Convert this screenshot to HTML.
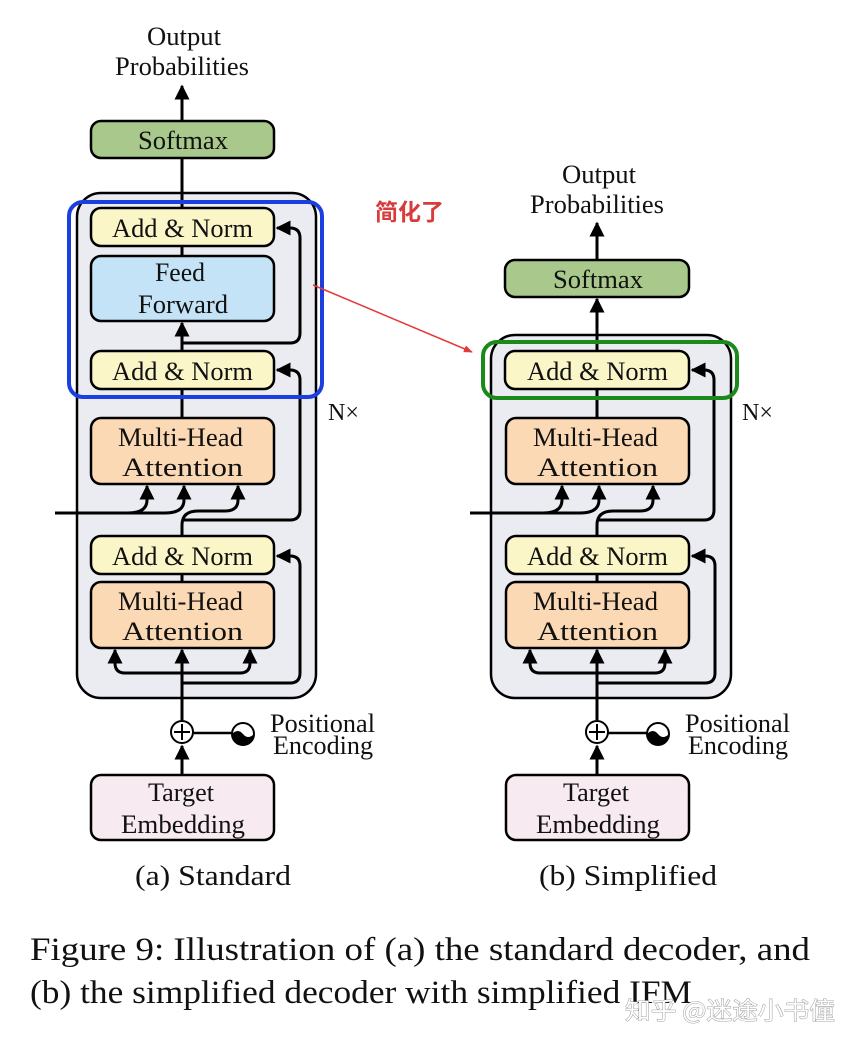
<!DOCTYPE html>
<html><head><meta charset="utf-8"><style>
body{margin:0;background:#fff;}
svg{display:block;}
text{font-family:"Liberation Serif",serif;fill:#111;}
</style></head><body>
<svg width="858" height="1044" viewBox="0 0 858 1044" xmlns="http://www.w3.org/2000/svg">
<defs>
<marker id="ah" viewBox="0 0 10 10" refX="9" refY="5" markerWidth="5" markerHeight="5" orient="auto"><path d="M0,0 L10,5 L0,10 z" fill="#000"/></marker>
<marker id="ra" viewBox="0 0 10 10" refX="9" refY="5" markerWidth="6" markerHeight="6" orient="auto"><path d="M0,1 L10,5 L0,9 z" fill="#e23a3a"/></marker>
<g id="lower">
  <rect x="91" y="418" width="183" height="66" rx="10" fill="#fbd9b4" stroke="#000" stroke-width="2.5"/>
  <text x="118" y="446" font-size="26" textLength="125" lengthAdjust="spacingAndGlyphs">Multi-Head</text>
  <text x="122" y="476" font-size="26" textLength="121" lengthAdjust="spacingAndGlyphs">Attention</text>
  <path d="M55,513 L128,513 Q147,513 147,500 L147,486" fill="none" stroke="#000" stroke-width="3" marker-end="url(#ah)"/>
  <path d="M128,513 L165,513 Q184,513 184,500 L184,486" fill="none" stroke="#000" stroke-width="3" marker-end="url(#ah)"/>
  <path d="M182,536 L182,525 Q182,511 198,511 L225,511 Q238,511 238,500 L238,486" fill="none" stroke="#000" stroke-width="3" marker-end="url(#ah)"/>
  <rect x="91" y="536" width="183" height="38" rx="10" fill="#fbf6c8" stroke="#000" stroke-width="2.5"/>
  <text x="112" y="565" font-size="26" textLength="141" lengthAdjust="spacingAndGlyphs">Add &amp; Norm</text>
  <rect x="91" y="582" width="183" height="66" rx="10" fill="#fbd9b4" stroke="#000" stroke-width="2.5"/>
  <text x="118" y="610" font-size="26" textLength="125" lengthAdjust="spacingAndGlyphs">Multi-Head</text>
  <text x="122" y="640" font-size="26" textLength="121" lengthAdjust="spacingAndGlyphs">Attention</text>
  <line x1="182" y1="574" x2="182" y2="582" stroke="#000" stroke-width="3"/>
  <path d="M182,720 L182,650" fill="none" stroke="#000" stroke-width="3" marker-end="url(#ah)"/>
  <path d="M182,673 L125,673 Q115,673 115,663 L115,650" fill="none" stroke="#000" stroke-width="3" marker-end="url(#ah)"/>
  <path d="M182,673 L240,673 Q250,673 250,663 L250,650" fill="none" stroke="#000" stroke-width="3" marker-end="url(#ah)"/>
  <path d="M182,683 L290,683 Q300,683 300,673 L300,566 Q300,556 290,556 L277,556" fill="none" stroke="#000" stroke-width="3" marker-end="url(#ah)"/>
  <circle cx="182" cy="732" r="11" fill="#fff" stroke="#000" stroke-width="2"/>
  <line x1="174" y1="732" x2="190" y2="732" stroke="#000" stroke-width="2"/>
  <line x1="182" y1="724" x2="182" y2="740" stroke="#000" stroke-width="2"/>
  <line x1="193" y1="733" x2="232" y2="733" stroke="#000" stroke-width="2.5"/>
  <circle cx="243" cy="734" r="11" fill="#fff" stroke="#000" stroke-width="2"/>
  <path d="M232,734 Q238,728 243,734 Q248,740 254,734 A11,11 0 0 1 232,734 z" fill="#000"/>
  <text x="270" y="732" font-size="26" textLength="105" lengthAdjust="spacingAndGlyphs">Positional</text>
  <text x="273" y="754" font-size="26" textLength="100" lengthAdjust="spacingAndGlyphs">Encoding</text>
  <path d="M182,775 L182,746" fill="none" stroke="#000" stroke-width="3" marker-end="url(#ah)"/>
  <rect x="91" y="775" width="183" height="65" rx="10" fill="#f8eaf1" stroke="#000" stroke-width="2.5"/>
  <text x="148" y="801" font-size="26" textLength="66" lengthAdjust="spacingAndGlyphs">Target</text>
  <text x="121" y="833" font-size="26" textLength="124" lengthAdjust="spacingAndGlyphs">Embedding</text>
</g>
</defs>

<rect x="77" y="193" width="239" height="505" rx="24" fill="#ebebf2" stroke="#000" stroke-width="2.5"/>
<text x="147" y="45" font-size="26" textLength="74" lengthAdjust="spacingAndGlyphs">Output</text>
<text x="115" y="75" font-size="26" textLength="134" lengthAdjust="spacingAndGlyphs">Probabilities</text>
<path d="M182,121 L182,86" stroke="#000" stroke-width="3" marker-end="url(#ah)"/>
<rect x="91" y="121" width="183" height="37" rx="10" fill="#a8c98b" stroke="#000" stroke-width="2.5"/>
<text x="138" y="149" font-size="26" textLength="90" lengthAdjust="spacingAndGlyphs">Softmax</text>
<line x1="182" y1="158" x2="182" y2="208" stroke="#000" stroke-width="3"/>
<rect x="91" y="208" width="183" height="38" rx="10" fill="#fbf6c8" stroke="#000" stroke-width="2.5"/>
<text x="112" y="237" font-size="26" textLength="141" lengthAdjust="spacingAndGlyphs">Add &amp; Norm</text>
<line x1="182" y1="246" x2="182" y2="256" stroke="#000" stroke-width="3"/>
<rect x="91" y="256" width="183" height="65" rx="10" fill="#c4e3f6" stroke="#000" stroke-width="2.5"/>
<text x="155" y="281" font-size="26" textLength="50" lengthAdjust="spacingAndGlyphs">Feed</text>
<text x="138" y="313" font-size="26" textLength="90" lengthAdjust="spacingAndGlyphs">Forward</text>
<path d="M182,351 L182,323" stroke="#000" stroke-width="3" marker-end="url(#ah)"/>
<path d="M182,343 L290,343 Q300,343 300,333 L300,238 Q300,228 290,228 L277,228" fill="none" stroke="#000" stroke-width="3" marker-end="url(#ah)"/>
<rect x="91" y="351" width="183" height="38" rx="10" fill="#fbf6c8" stroke="#000" stroke-width="2.5"/>
<text x="112" y="380" font-size="26" textLength="141" lengthAdjust="spacingAndGlyphs">Add &amp; Norm</text>
<line x1="182" y1="389" x2="182" y2="418" stroke="#000" stroke-width="3"/>
<path d="M182,520 L290,520 Q300,520 300,510 L300,380 Q300,370 290,370 L277,370" fill="none" stroke="#000" stroke-width="3" marker-end="url(#ah)"/>
<use href="#lower"/>
<rect x="69" y="202" width="253" height="195" rx="14" fill="none" stroke="#1a3ee0" stroke-width="4"/>
<text x="328" y="420" font-size="24">N×</text>
<text x="135" y="885" font-size="29" textLength="156" lengthAdjust="spacingAndGlyphs">(a) Standard</text>

<rect x="491" y="335" width="240" height="363" rx="24" fill="#ebebf2" stroke="#000" stroke-width="2.5"/>
<text x="562" y="183" font-size="26" textLength="74" lengthAdjust="spacingAndGlyphs">Output</text>
<text x="530" y="213" font-size="26" textLength="134" lengthAdjust="spacingAndGlyphs">Probabilities</text>
<path d="M597,260 L597,223" stroke="#000" stroke-width="3" marker-end="url(#ah)"/>
<rect x="505" y="260" width="184" height="37" rx="10" fill="#a8c98b" stroke="#000" stroke-width="2.5"/>
<text x="553" y="288" font-size="26" textLength="90" lengthAdjust="spacingAndGlyphs">Softmax</text>
<path d="M597,351 L597,299" stroke="#000" stroke-width="3" marker-end="url(#ah)"/>
<rect x="505" y="351" width="184" height="38" rx="10" fill="#fbf6c8" stroke="#000" stroke-width="2.5"/>
<text x="527" y="380" font-size="26" textLength="141" lengthAdjust="spacingAndGlyphs">Add &amp; Norm</text>
<line x1="597" y1="389" x2="597" y2="418" stroke="#000" stroke-width="3"/>
<path d="M597,520 L704,520 Q714,520 714,510 L714,380 Q714,370 704,370 L692,370" fill="none" stroke="#000" stroke-width="3" marker-end="url(#ah)"/>
<use href="#lower" transform="translate(415,0)"/>
<rect x="483" y="342" width="254" height="56" rx="14" fill="none" stroke="#1a8a1a" stroke-width="4"/>
<text x="742" y="420" font-size="24">N×</text>
<text x="539" y="885" font-size="29" textLength="178" lengthAdjust="spacingAndGlyphs">(b) Simplified</text>

<line x1="313" y1="285" x2="472" y2="352" stroke="#e23a3a" stroke-width="1.5" marker-end="url(#ra)"/>
<text x="375" y="220" font-size="23" font-weight="bold" style="font-family:'Noto Sans CJK SC',sans-serif;fill:#d93a3a;stroke:#fff;stroke-width:3;paint-order:stroke">简化了</text>

<text x="30" y="960" font-size="33" textLength="780" lengthAdjust="spacingAndGlyphs">Figure 9: Illustration of (a) the standard decoder, and</text>
<text x="30" y="1003" font-size="33" textLength="662" lengthAdjust="spacingAndGlyphs">(b) the simplified decoder with simplified IFM</text>
<text x="625" y="1019" font-size="24" textLength="210" lengthAdjust="spacingAndGlyphs" style="font-family:'Noto Sans CJK SC',sans-serif;fill:#fff;stroke:#888;stroke-width:0.8;paint-order:stroke">知乎 @迷途小书僮</text>
</svg>
</body></html>
